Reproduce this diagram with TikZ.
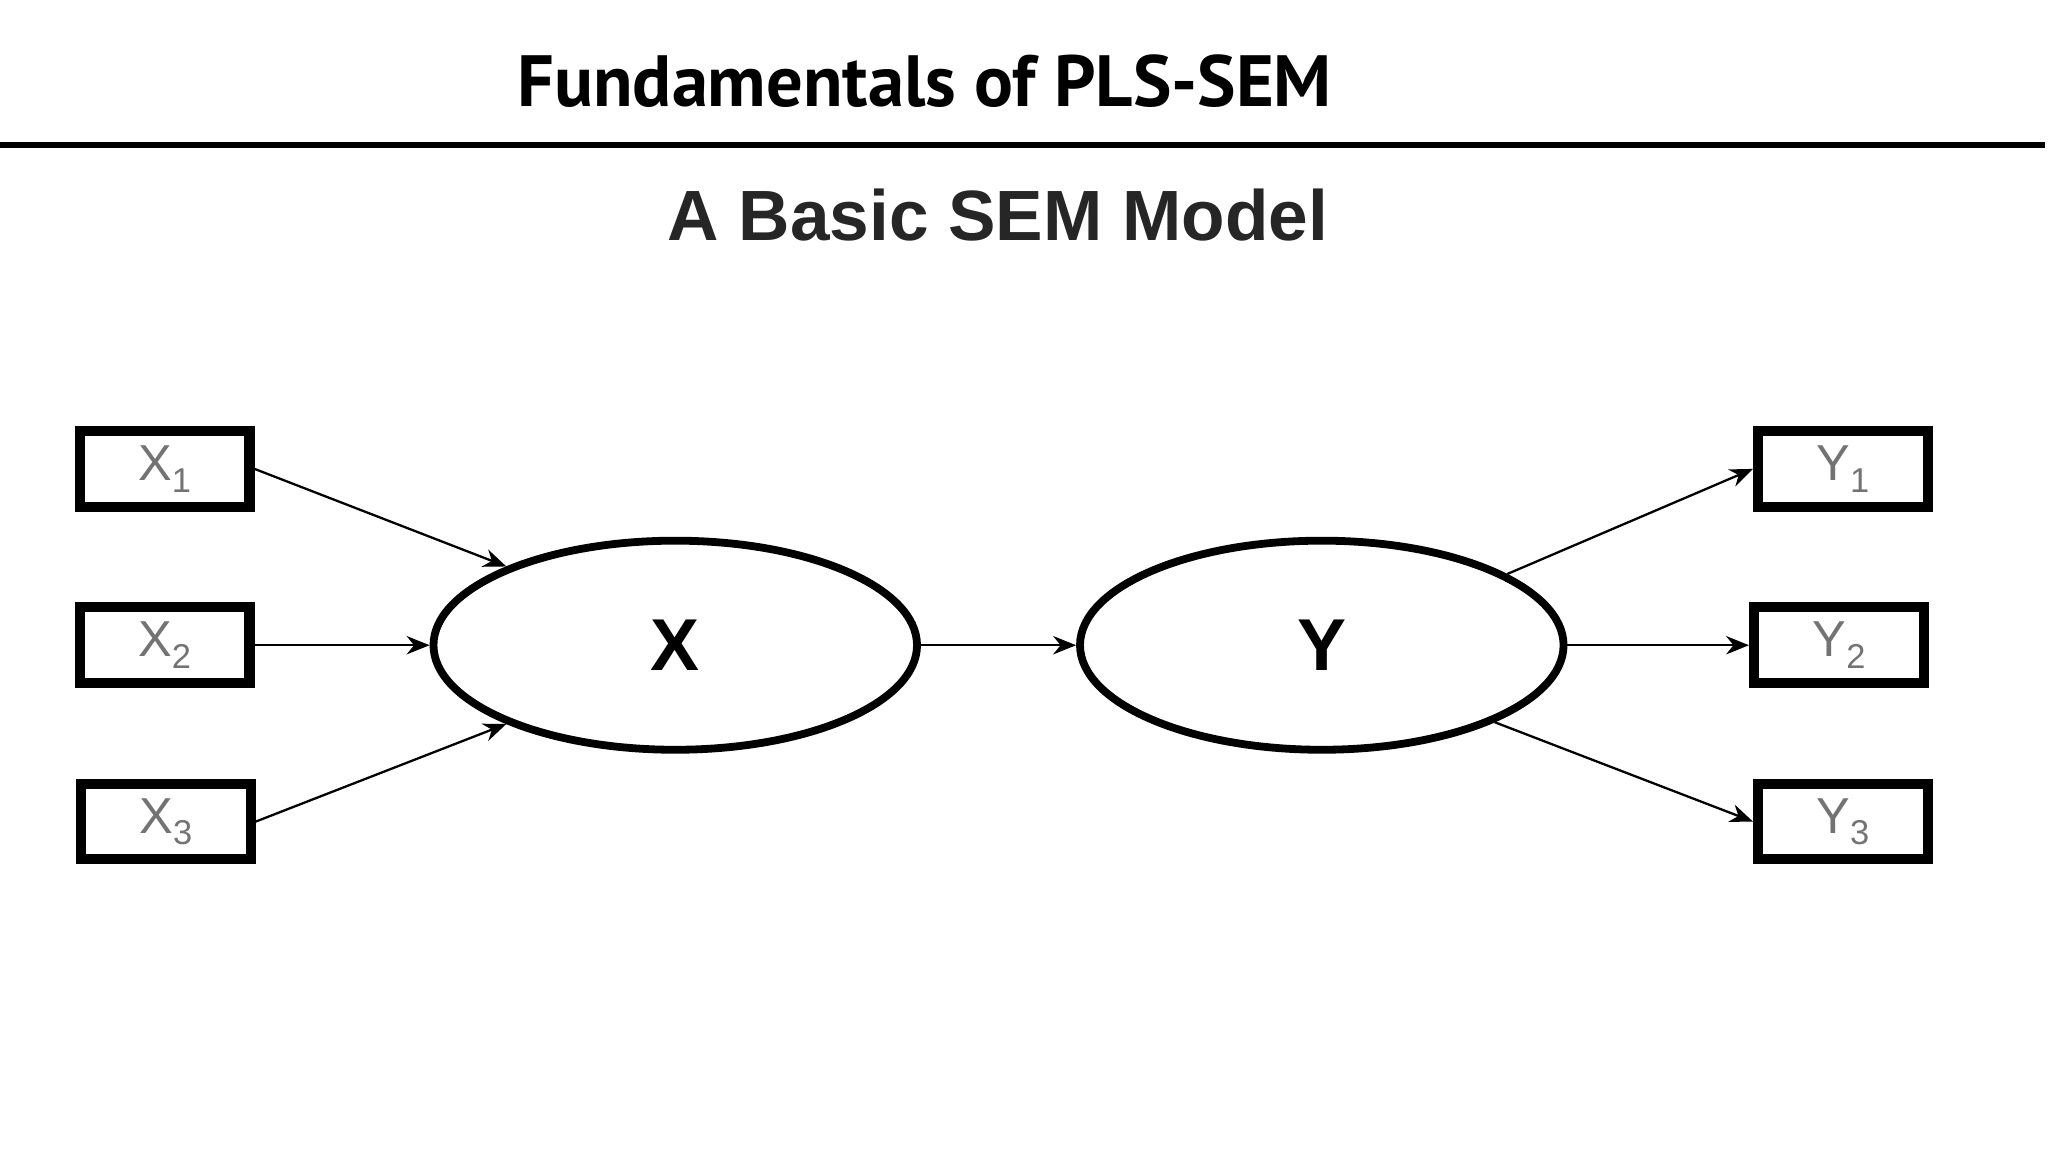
\documentclass[tikz,border=0pt]{standalone}
\usepackage{fontspec}
\setmainfont{Liberation Sans}
\newfontfamily\titlefont{PT Sans}
\usetikzlibrary{arrows.meta,shapes.geometric}
\newcommand{\mysub}[1]{\raisebox{-2.5pt}{\fontsize{7.5}{8}\selectfont #1}}
\begin{document}
\begin{tikzpicture}[x=0.01cm,y=-0.01cm,
  ibox/.style={draw,line width=2.2pt,minimum width=1.3cm,minimum height=0.58cm,inner sep=0pt,font=\fontsize{11}{12}\selectfont,text=black!55},
  lat/.style={draw,ellipse,line width=1.7pt,minimum width=3.7cm,minimum height=1.6cm,font=\fontsize{16}{18}\selectfont\bfseries},
  arr/.style={-{Stealth[length=5pt,width=4pt]},line width=0.5pt}]
\useasboundingbox (0,0) rectangle (1568,882);
\node[font=\titlefont\fontsize{15.8}{18}\selectfont\bfseries] (title) at (708,62) {Fundamentals of PLS-SEM};
\draw[line width=1.5pt] (0,111) -- (1566,111);
\node[font=\fontsize{15.5}{18}\selectfont\bfseries,text=black!85] (sub) at (764,165) {A Basic SEM Model};
\node[ibox] (x1) at (126,359) {X\mysub{1}};
\node[ibox] (x2) at (126,494) {X\mysub{2}};
\node[ibox] (x3) at (127,629) {X\mysub{3}};
\node[ibox] (y1) at (1411,359) {Y\mysub{1}};
\node[ibox] (y2) at (1408,494) {Y\mysub{2}};
\node[ibox] (y3) at (1411,629) {Y\mysub{3}};
\node[lat] (X) at (517,494) {X};
\node[lat] (Y) at (1012,494) {Y};
\draw[arr] (x1.east) -- (X.155);
\draw[arr] (x2.east) -- (X.west);
\draw[arr] (x3.east) -- (X.205);
\draw[arr] (X.east) -- (Y.west);
\draw[arr] (Y.21) -- (y1.west);
\draw[arr] (Y.east) -- (y2.west);
\draw[arr] (Y.-24) -- (y3.west);
\end{tikzpicture}
\end{document}
